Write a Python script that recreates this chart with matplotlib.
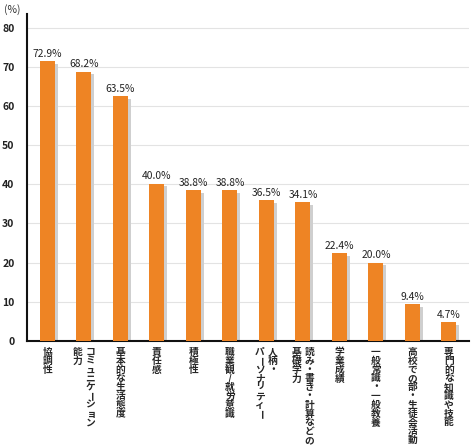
import matplotlib
matplotlib.use("Agg")
import matplotlib.pyplot as plt
import matplotlib.transforms as mtransforms

plt.rcParams['font.family'] = ['Noto Sans CJK JP', 'DejaVu Sans']

# Data
categories = [
    ["協調性"],
    ["コミュニケーション", "能力"],
    ["基本的な生活態度"],
    ["責任感"],
    ["積極性"],
    ["職業観/就労意識"],
    ["人柄・", "パーソナリティー"],
    ["読み・書き・計算などの", "基礎学力"],
    ["学業成績"],
    ["一般常識・一般教養"],
    ["高校での部・生徒会活動"],
    ["専門的な知識や技能"],
]
value_labels = ["72.9%", "68.2%", "63.5%", "40.0%", "38.8%", "38.8%",
                "36.5%", "34.1%", "22.4%", "20.0%", "9.4%", "4.7%"]
bar_heights = [71.5, 68.8, 62.6, 40.2, 38.5, 38.5, 35.9, 35.4, 22.4, 20.0, 9.3, 4.7]
yticks = [0, 10, 20, 30, 40, 50, 60, 70, 80]
unit_label = "(%)"

W, H = 474, 447
fig = plt.figure(figsize=(W / 100, H / 100), dpi=100)
ax = fig.add_axes([27 / W, 1 - 340.7 / H, (469 - 27) / W, (340.7 - 14) / H])

x = list(range(len(bar_heights)))
bw = 0.41

shadow_tr = mtransforms.offset_copy(ax.transData, fig=fig, x=3, y=-2.5, units='dots')
ax.bar(x, bar_heights, width=bw, color='#cfcfcf', transform=shadow_tr, zorder=2)
ax.bar(x, bar_heights, width=bw, color='#EE8424', zorder=3)

for xi, h, lab in zip(x, bar_heights, value_labels):
    ax.annotate(lab, xy=(xi, h), xytext=(0, 2.5), textcoords='offset pixels',
                ha='center', va='bottom', fontsize=7.4, color='#222222', zorder=4)

ax.set_xlim(-0.56, 11.55)
ax.set_ylim(0, 83.6)
ax.set_yticks(yticks)
ax.set_yticklabels([str(v) for v in yticks], fontsize=7.5, color='#222222', fontweight='bold')
ax.tick_params(axis='y', length=0, pad=9)
ax.set_xticks([])
ax.yaxis.grid(True, color='#e3e3e3', linewidth=0.8)
ax.set_axisbelow(True)
for s in ['top', 'right']:
    ax.spines[s].set_visible(False)
ax.spines['left'].set_linewidth(1.5)
ax.spines['bottom'].set_linewidth(1.5)
ax.spines['left'].set_color('#111111')
ax.spines['bottom'].set_color('#111111')

fig.text(4 / W, 1 - 9.5 / H, unit_label, fontsize=7.5, color='#333333', va='center', ha='left')

# Vertical category labels (columns read right to left)
pitch = 8.8
top = 7.0
xt = ax.get_xaxis_transform()
for xi, cols in zip(x, categories):
    n = len(cols)
    for ci, col in enumerate(cols):
        dx = (n - 1) / 2 * 13 - ci * 13
        for k, ch in enumerate(col):
            yc = top + pitch * (k + 0.5)
            rot = -90 if ch == 'ー' else 0
            ax.annotate(ch, xy=(xi, 0), xycoords=xt,
                        xytext=(dx, -yc), textcoords='offset pixels',
                        ha='center', va='center', fontsize=7.0, rotation=rot,
                        fontweight='bold', color='#262626', annotation_clip=False)

fig.savefig("out.png", dpi=100)
